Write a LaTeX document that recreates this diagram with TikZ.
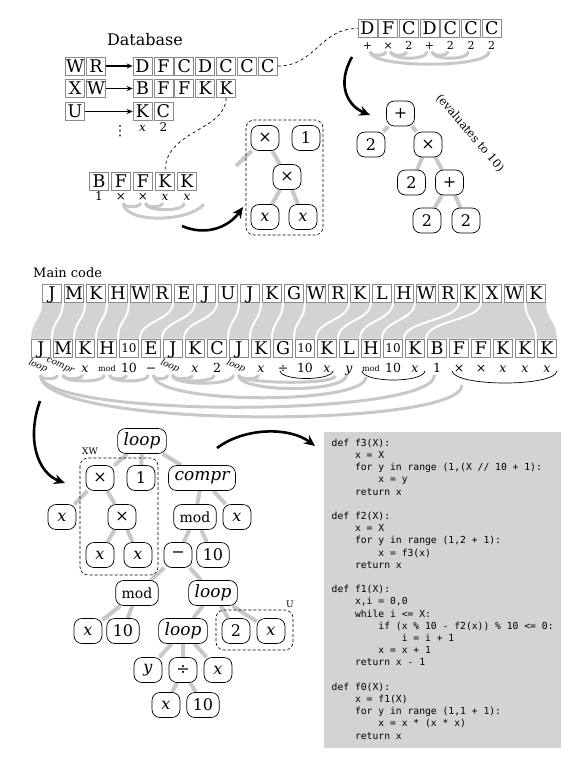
\RequirePackage{fix-cm}
\documentclass[tikz,border=0pt]{standalone}
\usepackage{fontspec}
\setmainfont{DejaVu Serif}
\newfontfamily\codefont{DejaVu Sans Mono}
\newfontfamily\symfont{DejaVu Sans}
\usetikzlibrary{calc,arrows.meta}
\definecolor{bandgray}{HTML}{D3D3D3}
\definecolor{edgegray}{HTML}{C8C8C8}
\definecolor{boxgray}{HTML}{8A8A8A}
\definecolor{codegray}{HTML}{D3D3D3}
\pgfdeclarelayer{bg}
\pgfsetlayers{bg,main}
\newcommand\fsz[1]{\fontsize{#1}{#1}\selectfont}
\newcommand\tenbox{\raisebox{2pt}{\fsz{12}10}}
\newcommand\vx{\textit{x}}
\newcommand\vy{\textit{y}}
\newcommand\ci[1]{\hspace*{#1\fontcharwd\font`0\relax}}
\newcommand\garcb[4]{\draw[arcg] ($(#1|-#3)+(2.5,0)$) .. controls +(0,#4) and +(0,#4) .. ($(#2|-#3)+(-2.5,0)$);}
\begin{document}
\begin{tikzpicture}[x=1pt,y=-1pt,
 sym/.style={draw=boxgray, line width=0.7pt, fill=white, minimum width=19pt, minimum height=18pt, inner sep=0.8pt, text height=12.8pt, text depth=0pt, font=\fsz{17.5}},
 tn/.style={draw=black, line width=0.7pt, fill=white, rounded corners=8pt, minimum width=28pt, minimum height=25pt, inner xsep=6pt, inner ysep=1pt, font=\fsz{16}},
 tw/.style={tn, font=\fsz{17}\itshape},
 tm/.style={tn, font=\fsz{14}},
 tedge/.style={draw=edgegray, line width=4pt},
 arcg/.style={draw=edgegray, line width=3pt},
 bigarrow/.style={line width=2.6pt, -{Stealth[length=11pt,width=10pt]}},
 smallarrow/.style={line width=1.2pt, -{Stealth[length=6pt,width=5pt]}},
 grp/.style={draw=black, line width=0.6pt, densely dashed, rounded corners=8pt},
 lab/.style={anchor=base, inner sep=0pt, font=\fsz{12.5}},
]
\useasboundingbox (0,0) rectangle (581,769);

% ---------------- Database ----------------
\node[font=\fsz{16}] (dbtitle) at (145,40) {Database};
\node[sym] (dw1) at (75,66) {W};
\node[sym] (dr1) at (96,66) {R};
\foreach \ch [count=\i] in {D,F,C,D,C,C,C} \node[sym] (d\i) at ({142.5+20.9*(\i-1)},66) {\ch};
\node[sym] (dx2) at (75,88.5) {X};
\node[sym] (dw2) at (96,88.5) {W};
\foreach \ch [count=\i] in {B,F,F,K,K} \node[sym] (e\i) at ({142.5+20.9*(\i-1)},88.5) {\ch};
\node[sym] (du3) at (75,111.5) {U};
\node[sym] (f1) at (142.5,111.5) {K};
\node[sym] (f2) at (163.4,111.5) {C};
\draw[smallarrow] (dr1) -- (d1);
\draw[smallarrow] (dw2) -- (e1);
\draw[smallarrow] (du3) -- (f1);
\node[lab,font=\fsz{12}] (fl1) at (142.5,131) {\vx};
\node[lab,font=\fsz{12}] (fl2) at (163.4,131) {2};
\node[font=\symfont\fsz{14}, inner sep=0pt] (vd) at (120,131) {⋮};

% ---------------- top right expression ----------------
\foreach \ch [count=\i] in {D,F,C,D,C,C,C} \node[sym] (g\i) at ({367.5+20.7*(\i-1)},28.5) {\ch};
\foreach \lab [count=\i] in {+,×,2,+,2,2,2} \node[lab,font=\fsz{11}] (gl\i) at (g\i |- 0,49) {\lab};
\coordinate (gbase) at (0,51.5);
\draw[dashed, line width=0.7pt] (d7.east) .. controls +(38,0) and +(-38,0) .. (g1.west);
\begin{pgfonlayer}{bg}
\garcb{gl1}{gl2}{gbase}{5}
\garcb{gl2}{gl3}{gbase}{5}
\garcb{gl2}{gl4}{gbase}{9}
\garcb{gl4}{gl5}{gbase}{5}
\garcb{gl4}{gl6}{gbase}{9}
\garcb{gl1}{gl7}{gbase}{17}
\end{pgfonlayer}
\coordinate (ta1) at (352,57);
\coordinate (ta2) at (370,115);
\draw[bigarrow] (ta1) .. controls (336,85) and (348,106) .. (ta2);

\node[tn] (p1) at (400.5,113.5) {+};
\node[tn] (p2) at (371,144.5) {2};
\node[tn] (p3) at (428,144.5) {×};
\node[tn] (p4) at (411.5,182.5) {2};
\node[tn] (p5) at (449.5,182.5) {+};
\node[tn] (p6) at (427,220.5) {2};
\node[tn] (p7) at (466,220.5) {2};
\begin{pgfonlayer}{bg}
\foreach \a/\b in {p1/p2,p1/p3,p3/p4,p3/p5,p5/p6,p5/p7} \draw[tedge] (\a) -- (\b);
\end{pgfonlayer}
\node[rotate=-49.5, font=\fsz{11.5}] (ev) at (470,133) {(evaluates to 10)};

% ---------------- XW expansion ----------------
\foreach \ch [count=\i] in {B,F,F,K,K} \node[sym] (h\i) at ({99+22*(\i-1)},181) {\ch};
\foreach \lab [count=\i] in {1,×,×,\vx,\vx} \node[lab,font=\fsz{12}] (hl\i) at (h\i |- 0,200) {\lab};
\coordinate (hbase) at (0,203);
\coordinate (hout) at (204,204);
\draw[dashed, line width=0.7pt] (e5.south) .. controls +(0,33) and +(0,-42) .. (h4.north);
\begin{pgfonlayer}{bg}
\garcb{hl2}{hl3}{hbase}{5}
\garcb{hl3}{hl4}{hbase}{5}
\garcb{hl3}{hl5}{hbase}{9}
\draw[arcg] ($(hl2|-hbase)+(2,0)$) .. controls +(2,21) and +(-14,18) .. (hout);
\end{pgfonlayer}
\coordinate (ma1) at (182,226);
\coordinate (ma2) at (243,207);
\draw[bigarrow] (ma1) .. controls (205,236) and (228,228) .. (ma2);

\node[tn] (m1) at (265,138) {×};
\node[tn] (m2) at (306,138) {1};
\node[tn] (m3) at (287,177) {×};
\node[tn] (m4) at (265,217) {\vx};
\node[tn] (m5) at (303,217) {\vx};
\coordinate (mdang) at (236,166);
\draw[grp] (246,120) rectangle (323,235);
\begin{pgfonlayer}{bg}
\foreach \a/\b in {m1/mdang,m1/m3,m3/m4,m3/m5} \draw[tedge] (\a) -- (\b);
\end{pgfonlayer}

% ---------------- Main code ----------------
\node[anchor=west, font=\fsz{13}, inner sep=0pt] (mc) at (33,273) {Main code};
\foreach \ch [count=\i] in {J,M,K,H,W,R,E,J,U,J,K,G,W,R,K,L,H,W,R,K,X,W,K}
  \node[sym] (t\i) at ({52+22*(\i-1)},293) {\ch};
\foreach \ch [count=\i] in {J,M,K,H,\tenbox,E,J,K,C,J,K,G,\tenbox,K,L,H,\tenbox,K,B,F,F,K,K,K}
  \node[sym] (s\i) at ({41+22*(\i-1)},348) {\ch};
\begin{pgfonlayer}{bg}
\fill[bandgray] (t1.south west) .. controls +(0,18) and +(0,-18) .. (s1.north west) -- (s24.north east) .. controls +(0,-18) and +(0,18) .. (t23.south east) -- cycle;
\foreach \a/\b in {1/1,2/2,3/3,4/4,6/5,7/6,8/7,9/9,10/10,11/11,12/12,14/13,15/14,16/15,17/16,19/17,20/18,22/23} {
  \pgfmathtruncatemacro\an{\a+1}
  \pgfmathtruncatemacro\bn{\b+1}
  \draw[white, line width=2pt] ($(t\a.south east)!.5!(t\an.south west)$) .. controls +(0,18.5) and +(0,-18.5) .. ($(s\b.north east)!.5!(s\bn.north west)$);
}
\end{pgfonlayer}
\coordinate (lbase) at (0,372);
\coordinate (abase) at (0,375);
\foreach \i/\lab in {3/\vx,5/10,6/−,8/\vx,9/2,11/\vx,12/÷,13/10,14/\vx,15/\vy,17/10,18/\vx,19/1,20/×,21/×,22/\vx,23/\vx,24/\vx}
  \node[lab] (l\i) at (s\i |- lbase) {\lab};
\foreach \i/\lab in {1/loop,2/compr,7/loop,10/loop}
  \node[rotate=-25, font=\fsz{9}\itshape, inner sep=0pt] (l\i) at ($(s\i |- lbase)+(-3,-6)$) {\lab};
\foreach \i in {4,16}
  \node[anchor=base, font=\fsz{8}, inner sep=0pt] (l\i) at ($(s\i |- lbase)+(0,-1)$) {mod};
% group brackets
\draw[line width=0.7pt] ($(s12|-lbase)+(-3,-1)$) .. controls +(2,10) and +(-2,10) .. ($(s14|-lbase)+(6,-1)$);
\draw[line width=0.7pt] ($(s16|-lbase)+(-9,-1)$) .. controls +(2,12) and +(-2,12) .. ($(s18|-lbase)+(10,-1)$);
\draw[line width=0.7pt] ($(s20|-lbase)+(-7,-1)$) .. controls +(3,16) and +(-2,16) .. ($(s24|-lbase)+(10,-1)$);
% tree arcs
\begin{pgfonlayer}{bg}
\garcb{l1}{l2}{abase}{5}
\garcb{l2}{l3}{abase}{5}
\garcb{l2}{l4}{abase}{8}
\garcb{l4}{l5}{abase}{5}
\garcb{l4}{l6}{abase}{8}
\garcb{l6}{l7}{abase}{5}
\garcb{l7}{l8}{abase}{5}
\garcb{l7}{l9}{abase}{8}
\garcb{l7}{l10}{abase}{11}
\garcb{l10}{l11}{abase}{5}
\draw[arcg] ($(l10|-abase)+(2.5,0)$) .. controls +(0,9) and +(0,9) .. ($(s14|-abase)+(8,1)$);
\garcb{l10}{l15}{abase}{18}
\draw[arcg] ($(l6|-abase)+(2.5,0)$) .. controls +(0,30) and +(0,28) .. ($(s16|-abase)+(-5,2)$);
\garcb{l1}{l19}{abase}{43}
\draw[arcg] ($(l1|-abase)+(2.5,0)$) .. controls +(0,54) and +(0,44) .. ($(s20|-abase)+(3,10)$);
\end{pgfonlayer}

% ---------------- arrows to lower tree and code ----------------
\coordinate (la1) at (40,401);
\coordinate (la2) at (65,483);
\draw[bigarrow] (la1) .. controls (26,440) and (38,473) .. (la2);
\coordinate (lb1) at (217,448);
\coordinate (lb2) at (315,446);
\draw[bigarrow] (lb1) .. controls (245,427) and (290,427) .. (lb2);

% ---------------- lower tree ----------------
\node[tw] (r) at (142,441) {loop};
\node[tn] (a) at (100,478) {×};
\node[tn] (b) at (141,478) {1};
\node[tw] (c) at (202,478) {compr};
\node[tn] (d) at (62,517) {\vx};
\node[tn] (e) at (122,517) {×};
\node[tm] (f) at (195,517) {mod};
\node[tn] (g) at (237,517) {\vx};
\node[tn] (h) at (100,555) {\vx};
\node[tn] (i) at (138,555) {\vx};
\node[tn] (j) at (178,555) {−};
\node[tn] (k) at (213,555) {10};
\node[tm] (l) at (137,593) {mod};
\node[tw] (m) at (213,593) {loop};
\node[tn] (n) at (88,631) {\vx};
\node[tn] (o) at (123,631) {10};
\node[tw] (p) at (183,631) {loop};
\node[tn] (q) at (236,631) {2};
\node[tn] (s) at (271,631) {\vx};
\node[tn] (t) at (148,670) {\vy};
\node[tn] (u) at (183,670) {÷};
\node[tn] (v) at (218,670) {\vx};
\node[tn] (w) at (166,705) {\vx};
\node[tn] (z) at (203,705) {10};
\begin{pgfonlayer}{bg}
\foreach \a/\b in {r/a,r/b,r/c,a/d,a/e,e/h,e/i,c/f,c/g,f/j,f/k,j/l,j/m,l/n,l/o,m/p,m/q,m/s,p/t,p/u,p/v,u/w,u/z}
  \draw[tedge] (\a) -- (\b);
\end{pgfonlayer}
\draw[grp] (80,458) rectangle (158,575);
\draw[grp] (216,610) rectangle (293,650);
\node[font=\fsz{9}, inner sep=0pt] (xwlab) at (90,451) {XW};
\node[font=\fsz{9}, inner sep=0pt] (ulab) at (290,604) {U};

% ---------------- code ----------------
\fill[codegray] (324,432) rectangle (561,748);
\node[anchor=north west, inner sep=0pt, align=left, font={\codefont\fontsize{9.7}{12.2}\selectfont}] (code) at (331.5,438.7) {%
def f3(X):\\
\ci{4}x = X\\
\ci{4}for y in range (1,(X // 10 + 1):\\
\ci{8}x = y\\
\ci{4}return x\\
\mbox{}\\
def f2(X):\\
\ci{4}x = X\\
\ci{4}for y in range (1,2 + 1):\\
\ci{8}x = f3(x)\\
\ci{4}return x\\
\mbox{}\\
def f1(X):\\
\ci{4}x,i = 0,0\\
\ci{4}while i <= X:\\
\ci{8}if (x \% 10 - f2(x)) \% 10 <= 0:\\
\ci{12}i = i + 1\\
\ci{8}x = x + 1\\
\ci{4}return x - 1\\
\mbox{}\\
def f0(X):\\
\ci{4}x = f1(X)\\
\ci{4}for y in range (1,1 + 1):\\
\ci{8}x = x * (x * x)\\
\ci{4}return x};
\end{tikzpicture}
\end{document}
